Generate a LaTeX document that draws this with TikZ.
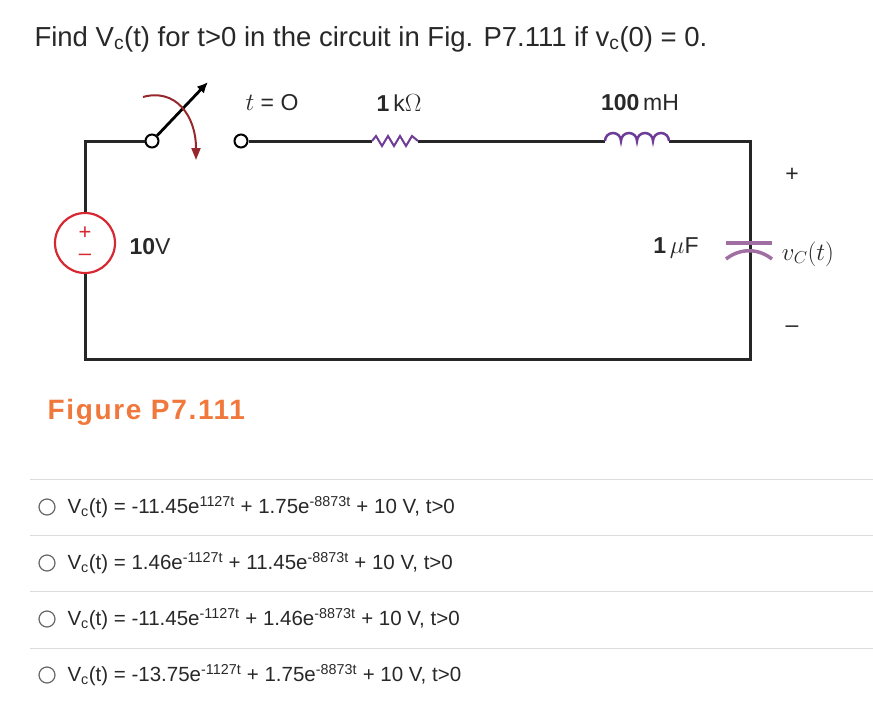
\documentclass[tikz,border=0pt]{standalone}
\usepackage{fontspec}
\setmainfont{Liberation Sans}
\usetikzlibrary{arrows.meta,decorations.pathmorphing}
\definecolor{src}{RGB}{215,40,50}
\definecolor{ind}{RGB}{110,60,150}
\definecolor{cap}{RGB}{160,110,160}
\definecolor{arr}{RGB}{150,40,45}
\definecolor{fig}{RGB}{240,120,60}
\definecolor{txt}{RGB}{40,40,40}
\definecolor{sep}{RGB}{220,220,220}
\begin{document}
\begin{tikzpicture}[x=1pt,y=-1pt,
  wire/.style={line width=3pt,color=black!85},
  term/.style={circle,draw,line width=2pt,fill=white,minimum size=13pt,inner sep=0},
  lab/.style={font=\fontsize{23}{24}\selectfont,text=txt},
  opt/.style={anchor=west,font=\fontsize{20.5}{22}\selectfont,text=txt},
  radio/.style={circle,draw=black!60,line width=1.2pt,minimum size=16pt,inner sep=0}]
\useasboundingbox (0,0) rectangle (873,712);
\node[anchor=west,font=\fontsize{27.5}{29}\selectfont,text=txt] (title) at (31,39) {Find V\textsubscript{c}(t) for t>0 in the circuit in Fig. P7.111 if v\textsubscript{c}(0) = 0.};
% circuit
\coordinate (tl) at (85,141); \coordinate (bl) at (85,359);
\coordinate (tr) at (750,141); \coordinate (br) at (750,359);
\node[term] (s1) at (152,141) {};
\node[term] (s2) at (241,141) {};
\node[circle,draw=src,line width=2.2pt,minimum size=60pt,inner sep=0] (vs) at (85,243) {};
\node[text=src,font=\fontsize{22}{22}\selectfont] (vp) at (85,233) {+};
\node[text=src,font=\fontsize{22}{22}\selectfont] (vm) at (85,257) {--};
\draw[wire] (vs.north) -- (tl) -- (s1.west);
\draw[wire] (vs.south) -- (bl) -- (br) -- (tr) -- (669,141);
\draw[wire] (s2.east) -- (372,141);
\draw[wire] (418,141) -- (605,141);
\draw[line width=2pt,color=ind] (372,141) -- (376,136) -- (382,146) -- (388,136) -- (394,146) -- (400,136) -- (406,146) -- (412,136) -- (418,141);
\draw[line width=2.5pt,color=ind] (605,141) arc (180:360:8 and 8) arc (180:360:8 and 8) arc (180:360:8 and 8) arc (180:360:8 and 8);
\draw[line width=2.8pt,-{Latex[length=11pt,width=10pt]}] (s1) -- (208,82);
\draw[line width=2pt,color=arr,-{Triangle[length=12pt,width=9pt]}] (143,97) .. controls (175,88) and (196,115) .. (196,160);
% capacitor
\draw[line width=3.5pt,color=cap] (726,243) -- (772,243);
\draw[line width=3.5pt,color=cap] (726,259) .. controls (740,248) and (758,248) .. (772,259);
\node[lab] (tz) at (272,103) {$t$ = O};
\node[lab] (rl) at (399,103) {\textbf{1}\,k$\Omega$};
\node[lab] (ll) at (640,103) {\textbf{100}\,mH};
\node[lab] (vl) at (150,247) {\textbf{10}V};
\node[lab] (cl) at (676,248) {\textbf{1}\,$\mu$F};
\node[lab] (pl) at (792,175) {+};
\node[lab] (ml) at (792,329) {--};
\node[lab,font=\fontsize{24}{24}\selectfont] (vcl) at (808,254) {$v_C(t)$};
\node[anchor=west,text=fig,font=\bfseries\fontsize{28}{28}\selectfont\addfontfeature{LetterSpace=6}] (figl) at (44,412) {Figure P7.111};
% options
\foreach \y in {479,535,591,648} \draw[sep,line width=1pt] (30,\y) -- (873,\y);
\node[radio] (r1) at (47,507) {}; \node[opt] (o1) at (64,507) {V\textsubscript{c}(t) = -11.45e\textsuperscript{1127t} + 1.75e\textsuperscript{-8873t} + 10 V, t>0};
\node[radio] (r2) at (47,563) {}; \node[opt] (o2) at (64,563) {V\textsubscript{c}(t) = 1.46e\textsuperscript{-1127t} + 11.45e\textsuperscript{-8873t} + 10 V, t>0};
\node[radio] (r3) at (47,619) {}; \node[opt] (o3) at (64,619) {V\textsubscript{c}(t) = -11.45e\textsuperscript{-1127t} + 1.46e\textsuperscript{-8873t} + 10 V, t>0};
\node[radio] (r4) at (47,675) {}; \node[opt] (o4) at (64,675) {V\textsubscript{c}(t) = -13.75e\textsuperscript{-1127t} + 1.75e\textsuperscript{-8873t} + 10 V, t>0};
\end{tikzpicture}
\end{document}
